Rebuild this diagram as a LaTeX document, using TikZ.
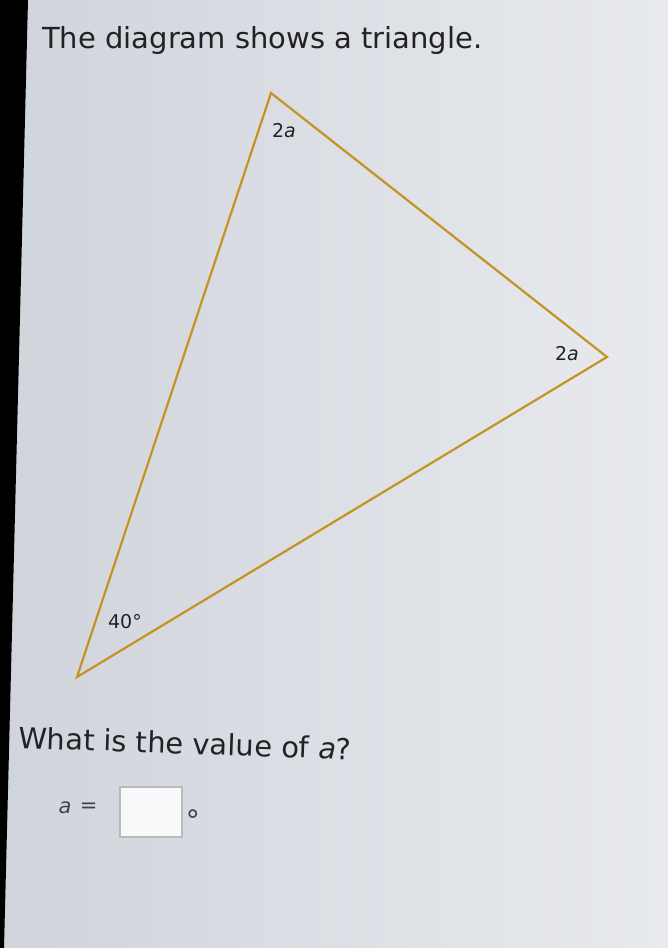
\documentclass[tikz,border=0pt]{standalone}
\usepackage{fontspec}
\setmainfont{DejaVu Sans}
\usetikzlibrary{positioning, calc}
\definecolor{screenL}{RGB}{208,212,219}
\definecolor{screenR}{RGB}{232,234,238}
\definecolor{edge}{RGB}{196,148,34}
\definecolor{ink}{RGB}{34,34,38}
\begin{document}
\begin{tikzpicture}[
  x=1pt, y=-1pt,
  font=\fontsize{29}{34}\selectfont,
  txt/.style={text=ink, inner sep=0pt, anchor=base west},
  lbl/.style={text=ink, inner sep=1pt, font=\fontsize{19}{22}\selectfont},
  ans/.style={text=ink!85, inner sep=1pt, font=\fontsize{21}{24}\selectfont},
  side/.style={draw=edge, line width=2.2pt, line join=miter},
  ansbox/.style={draw=gray!55, fill=white!70!screenR, line width=1.2pt, minimum width=62pt, minimum height=50pt, inner sep=0pt}
]
% screen and bezel
\shade[left color=screenL, right color=screenR] (0,0) rectangle (668,948);
\fill[black] (0,0) -- (28,0) -- (4,948) -- (0,948) -- cycle;
\useasboundingbox (0,0) rectangle (668,948);

% heading
\node[txt] (title) at (42,48) {The diagram shows a triangle.};

% the triangle
\coordinate (T) at (271,93);
\coordinate (R) at (607,357);
\coordinate (L) at (77,677);
\draw[side] (T) -- (R) -- (L) -- cycle;

% angle labels
\node[lbl] (angT) at (284,131) {2\textit{a}};
\node[lbl] (angR) at (567,354) {2\textit{a}};
\node[lbl] (angL) at (125,622) {40°};

% question and answer
\node[txt, rotate=-2] (question) at (18,748) {What is the value of \textit{a}?};
\node[ans] (avar) at (65,808) {\textit{a}};
\node[ans, right=6pt of avar] (eq) {=};
\node[ansbox] (answer) at (151,812) {};
\node[ans, font=\fontsize{28}{30}\selectfont, right=2pt of answer, yshift=-8pt] (deg) {°};
\end{tikzpicture}
\end{document}
